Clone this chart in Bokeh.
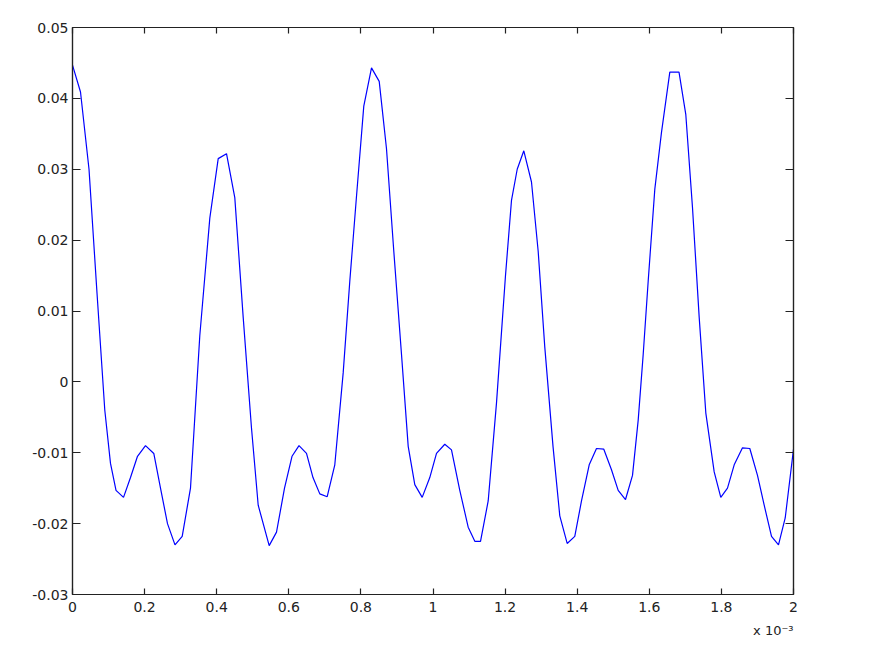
from bokeh.plotting import figure
from bokeh.models import LinearAxis, FixedTicker, CustomJSTickFormatter, Range1d, Title
from bokeh.embed import file_html
from bokeh.resources import INLINE

# time in units of 1e-3 s
t_ms = [0.0000, 0.0222, 0.0458, 0.0680, 0.0896, 0.1054, 0.1207, 0.1415, 0.1609, 0.1803,
        0.2025, 0.2255, 0.2441, 0.2635, 0.2843, 0.3043, 0.3273, 0.3531, 0.3809, 0.4042,
        0.4272, 0.4502, 0.4735, 0.4965, 0.5151, 0.5456, 0.5659, 0.5881, 0.6089, 0.6283,
        0.6491, 0.6671, 0.6860, 0.7065, 0.7276, 0.7509, 0.7692, 0.7878, 0.8080, 0.8294,
        0.8508, 0.8710, 0.8913, 0.9126, 0.9312, 0.9495, 0.9700, 0.9911, 1.0097, 1.0327,
        1.0513, 1.0743, 1.0976, 1.1160, 1.1318, 1.1531, 1.1761, 1.2011, 1.2177, 1.2336,
        1.2519, 1.2732, 1.2918, 1.3101, 1.3329, 1.3517, 1.3722, 1.3933, 1.4119, 1.4333,
        1.4535, 1.4738, 1.4951, 1.5137, 1.5340, 1.5534, 1.5692, 1.5831, 1.5969, 1.6153,
        1.6338, 1.6569, 1.6824, 1.7013, 1.7198, 1.7384, 1.7568, 1.7800, 1.7983, 1.8169,
        1.8355, 1.8585, 1.8788, 1.9001, 1.9187, 1.9390, 1.9584, 1.9770, 2.0000]

signal = [0.0447, 0.0409, 0.0300, 0.0125, -0.0040, -0.0115, -0.0153, -0.0163, -0.0135, -0.0105,
          -0.0090, -0.0101, -0.0150, -0.0200, -0.0230, -0.0218, -0.0150, 0.0065, 0.0231, 0.0315,
          0.0322, 0.0260, 0.0091, -0.0065, -0.0174, -0.0231, -0.0212, -0.0150, -0.0105, -0.0090,
          -0.0101, -0.0135, -0.0158, -0.0162, -0.0117, 0.0013, 0.0142, 0.0262, 0.0389, 0.0443,
          0.0424, 0.0329, 0.0184, 0.0039, -0.0091, -0.0145, -0.0163, -0.0135, -0.0101, -0.0088,
          -0.0096, -0.0153, -0.0205, -0.0225, -0.0225, -0.0168, -0.0030, 0.0150, 0.0256, 0.0300,
          0.0326, 0.0282, 0.0184, 0.0049, -0.0091, -0.0189, -0.0228, -0.0218, -0.0168, -0.0117,
          -0.0094, -0.0095, -0.0124, -0.0153, -0.0166, -0.0132, -0.0054, 0.0039, 0.0142, 0.0272,
          0.0352, 0.0437, 0.0437, 0.0377, 0.0246, 0.0091, -0.0044, -0.0127, -0.0163, -0.0150,
          -0.0117, -0.0093, -0.0094, -0.0132, -0.0174, -0.0218, -0.0230, -0.0192, -0.0095]

x_ticks = [0, 0.2, 0.4, 0.6, 0.8, 1.0, 1.2, 1.4, 1.6, 1.8, 2.0]
y_ticks = [-0.03, -0.02, -0.01, 0, 0.01, 0.02, 0.03, 0.04, 0.05]
x_exponent = "x 10\u207b\u00b3"

FONT = "DejaVu Sans"
TXT = "#222222"

p = figure(frame_width=721, frame_height=567,
           min_border_left=72, min_border_top=27, min_border_right=67, min_border_bottom=62,
           x_range=Range1d(0, 2), y_range=Range1d(-0.03, 0.05),
           output_backend="svg", toolbar_location=None,
           x_axis_location=None, y_axis_location=None)
p.xgrid.visible = False
p.ygrid.visible = False
p.outline_line_color = "#222222"
p.outline_line_width = 1.2
p.background_fill_color = "white"
p.border_fill_color = "white"

xfmt = CustomJSTickFormatter(code="return String(Number(tick.toFixed(1)));")
yfmt = CustomJSTickFormatter(code="return String(Number(tick.toFixed(2)));")

def style(ax, tick_len, labels=True):
    ax.axis_line_color = "#222222"
    ax.axis_line_width = 1.2
    ax.major_tick_line_color = "#222222"
    ax.major_tick_line_width = 1.2
    ax.major_tick_in = tick_len
    ax.major_tick_out = 0
    ax.minor_tick_line_color = None
    ax.major_label_text_font = FONT
    ax.major_label_text_font_size = "14px"
    ax.major_label_text_color = TXT if labels else None

bx = LinearAxis(ticker=FixedTicker(ticks=x_ticks), formatter=xfmt)
style(bx, 6)
bx.major_label_standoff = 7
p.add_layout(bx, "below")

tx = LinearAxis(ticker=FixedTicker(ticks=x_ticks), formatter=xfmt)
style(tx, 6, labels=False)
p.add_layout(tx, "above")

ly = LinearAxis(ticker=FixedTicker(ticks=y_ticks), formatter=yfmt)
style(ly, 8)
ly.major_label_standoff = 4
p.add_layout(ly, "left")

ry = LinearAxis(ticker=FixedTicker(ticks=y_ticks), formatter=yfmt)
style(ry, 8, labels=False)
p.add_layout(ry, "right")

p.line(t_ms, signal, line_color="#0000ff", line_width=1.2)

p.add_layout(Title(text=x_exponent, align="right", text_font=FONT, text_font_size="13px",
                   text_font_style="normal", text_color=TXT, standoff=12), "below")

open("out.html", "w").write(file_html(p, INLINE))
